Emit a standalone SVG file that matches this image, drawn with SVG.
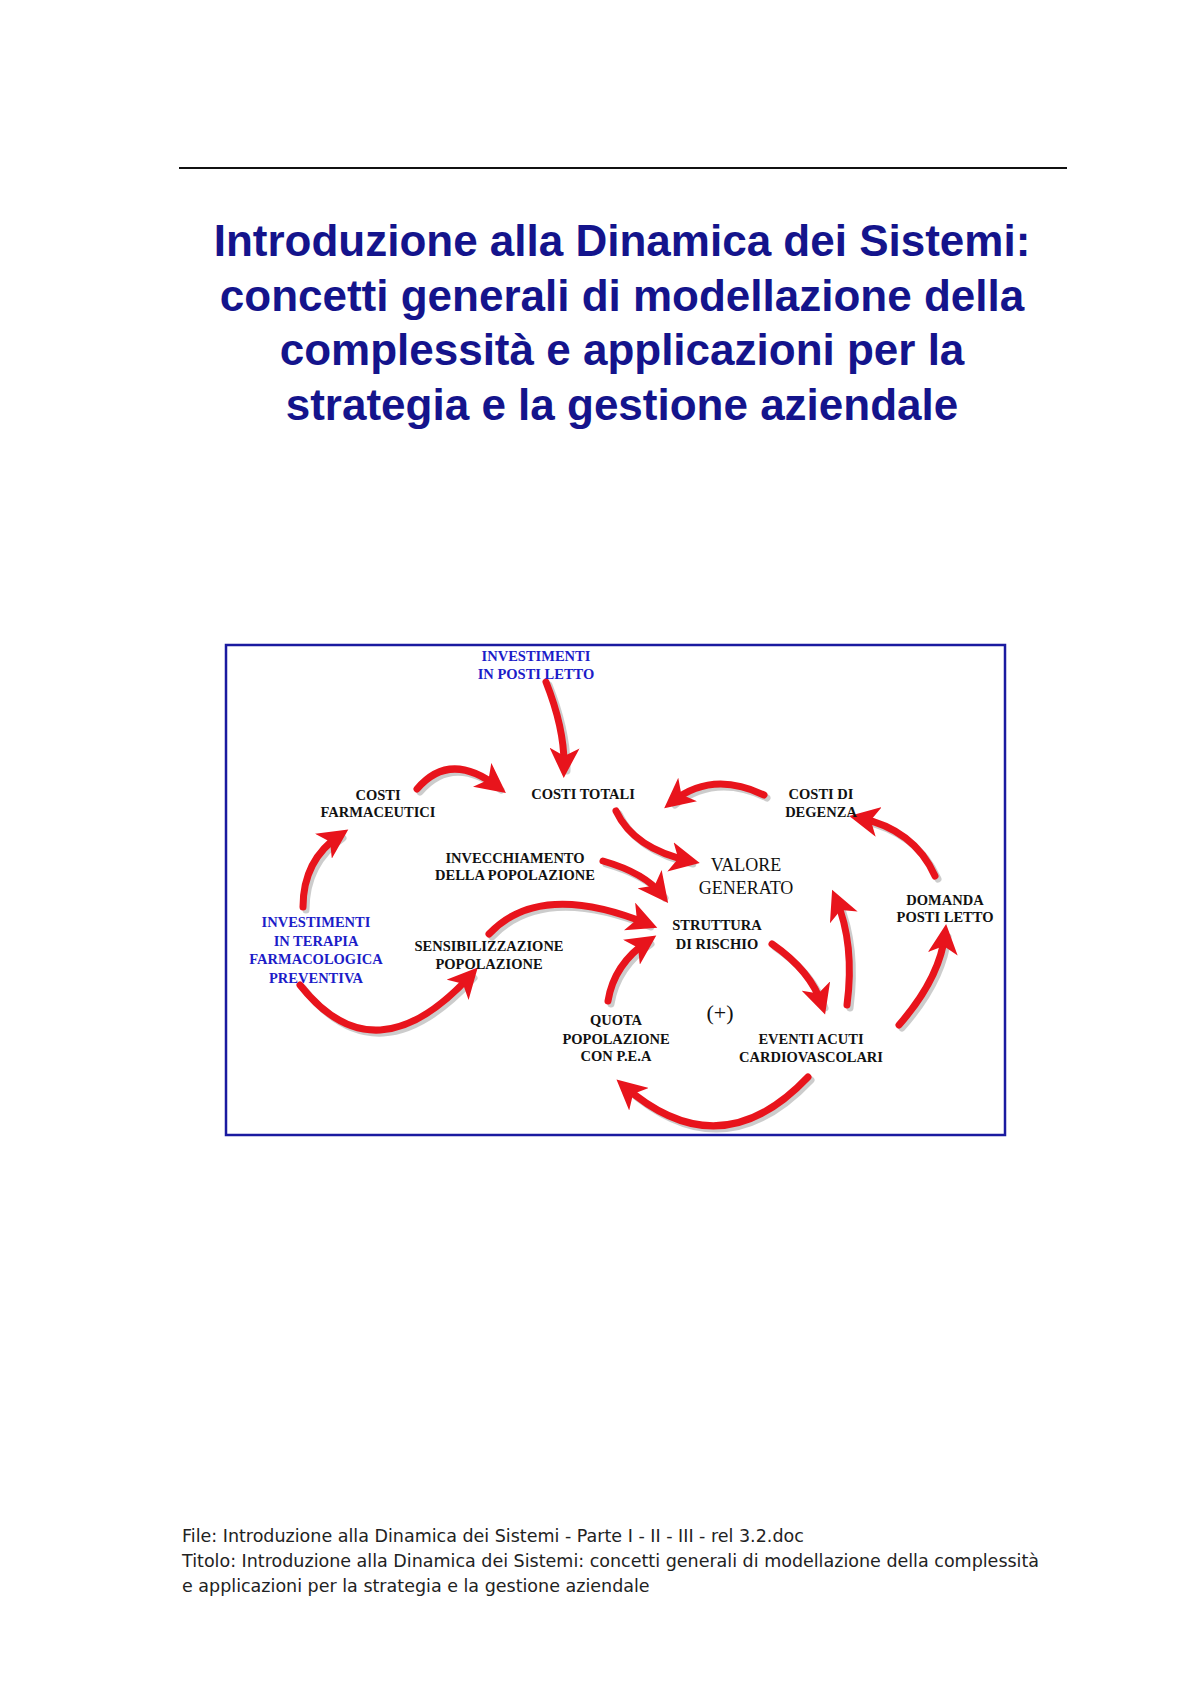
<svg xmlns="http://www.w3.org/2000/svg" width="1200" height="1698" viewBox="0 0 1200 1698">
<style>
.t{font-family:"Liberation Sans",Arial,sans-serif;font-weight:bold;font-size:44px;fill:#14148c;text-anchor:middle}
.l{font-family:"Liberation Serif","Times New Roman",serif;font-weight:bold;font-size:14.5px;fill:#111;text-anchor:middle}
.b{fill:#1c1cc8}
.f{font-family:"DejaVu Sans",sans-serif;font-size:17.5px;fill:#222}
.a{fill:none;stroke:#e8141c;stroke-width:7;stroke-linecap:round;marker-end:url(#h)}
.s{fill:none;stroke:#999;stroke-width:7;opacity:.5;stroke-linecap:round}
</style>
<defs>
<marker id="h" markerUnits="userSpaceOnUse" markerWidth="34" markerHeight="30" refX="20" refY="15" orient="auto">
<path d="M0,0 L30,15 L0,30 L8,15 Z" fill="#e8141c"/>
</marker>
</defs>
<rect width="1200" height="1698" fill="#fff"/>
<line x1="179" y1="168" x2="1067" y2="168" stroke="#111" stroke-width="2"/>
<g id="title">
<text class="t" x="622" y="256">Introduzione alla Dinamica dei Sistemi:</text>
<text class="t" x="622" y="311">concetti generali di modellazione della</text>
<text class="t" x="622" y="365">complessità e applicazioni per la</text>
<text class="t" x="622" y="420">strategia e la gestione aziendale</text>
</g>
<rect x="226" y="645" width="779" height="490" fill="#fff" stroke="#1a1aa0" stroke-width="2.5"/>
<g id="connectors">
<g transform="translate(3,3)">
<path class="s" d="M546,682 Q565,730 564,768"/>
<path class="s" d="M417,789 Q450,750 498,787"/>
<path class="s" d="M764,795 Q712,770 672,802"/>
<path class="s" d="M616,811 Q634,849 690,861"/>
<path class="s" d="M603,861 Q645,873 662,895"/>
<path class="s" d="M489,934 Q540,880 648,924"/>
<path class="s" d="M608,1001 Q614,964 648,941"/>
<path class="s" d="M772,944 Q811,971 822,1005"/>
<path class="s" d="M847,1005 Q855,944 836,899"/>
<path class="s" d="M899,1025 Q940,978 945,934"/>
<path class="s" d="M935,876 Q914,829 859,818"/>
<path class="s" d="M303,907 Q303,860 340,835"/>
<path class="s" d="M300,985 Q375,1080 471,975"/>
<path class="s" d="M808,1077 Q720,1170 624,1086"/>
</g>
<path class="a" d="M546,682 Q565,730 564,768"/>
<path class="a" d="M417,789 Q450,750 498,787"/>
<path class="a" d="M764,795 Q712,770 672,802"/>
<path class="a" d="M616,811 Q634,849 690,861"/>
<path class="a" d="M603,861 Q645,873 662,895"/>
<path class="a" d="M489,934 Q540,880 648,924"/>
<path class="a" d="M608,1001 Q614,964 648,941"/>
<path class="a" d="M772,944 Q811,971 822,1005"/>
<path class="a" d="M847,1005 Q855,944 836,899"/>
<path class="a" d="M899,1025 Q940,978 945,934"/>
<path class="a" d="M935,876 Q914,829 859,818"/>
<path class="a" d="M303,907 Q303,860 340,835"/>
<path class="a" d="M300,985 Q375,1080 471,975"/>
<path class="a" d="M808,1077 Q720,1170 624,1086"/>
</g>
<g id="inv-posti"><text class="l b" x="536" y="661">INVESTIMENTI</text><text class="l b" x="536" y="679">IN POSTI LETTO</text></g>
<g id="costi-farm"><text class="l" x="378" y="800">COSTI</text><text class="l" x="378" y="817">FARMACEUTICI</text></g>
<g id="costi-tot"><text class="l" x="583" y="799">COSTI TOTALI</text></g>
<g id="costi-deg"><text class="l" x="821" y="799">COSTI DI</text><text class="l" x="821" y="817">DEGENZA</text></g>
<g id="invecch"><text class="l" x="515" y="863">INVECCHIAMENTO</text><text class="l" x="515" y="880">DELLA POPOLAZIONE</text></g>
<g id="valore"><text class="l" x="746" y="871" style="font-size:18px;font-weight:normal">VALORE</text><text class="l" x="746" y="894" style="font-size:18px;font-weight:normal">GENERATO</text></g>
<g id="domanda"><text class="l" x="945" y="905">DOMANDA</text><text class="l" x="945" y="922">POSTI LETTO</text></g>
<g id="inv-terapia"><text class="l b" x="316" y="927">INVESTIMENTI</text><text class="l b" x="316" y="946">IN TERAPIA</text><text class="l b" x="316" y="964">FARMACOLOGICA</text><text class="l b" x="316" y="983">PREVENTIVA</text></g>
<g id="struttura"><text class="l" x="717" y="930">STRUTTURA</text><text class="l" x="717" y="949">DI RISCHIO</text></g>
<g id="sensib"><text class="l" x="489" y="951">SENSIBILIZZAZIONE</text><text class="l" x="489" y="969">POPOLAZIONE</text></g>
<g id="plus"><text class="l" x="720" y="1020" style="font-size:22px;font-weight:normal">(+)</text></g>
<g id="quota"><text class="l" x="616" y="1025">QUOTA</text><text class="l" x="616" y="1044">POPOLAZIONE</text><text class="l" x="616" y="1061">CON P.E.A</text></g>
<g id="eventi"><text class="l" x="811" y="1044">EVENTI  ACUTI</text><text class="l" x="811" y="1062">CARDIOVASCOLARI</text></g>
<g id="footer">
<text class="f" x="182" y="1542">File: Introduzione alla Dinamica dei Sistemi - Parte I - II - III - rel 3.2.doc</text>
<text class="f" x="182" y="1567">Titolo: Introduzione alla Dinamica dei Sistemi: concetti generali di modellazione della complessità</text>
<text class="f" x="182" y="1592">e applicazioni per la strategia e la gestione aziendale</text>
</g>
</svg>
